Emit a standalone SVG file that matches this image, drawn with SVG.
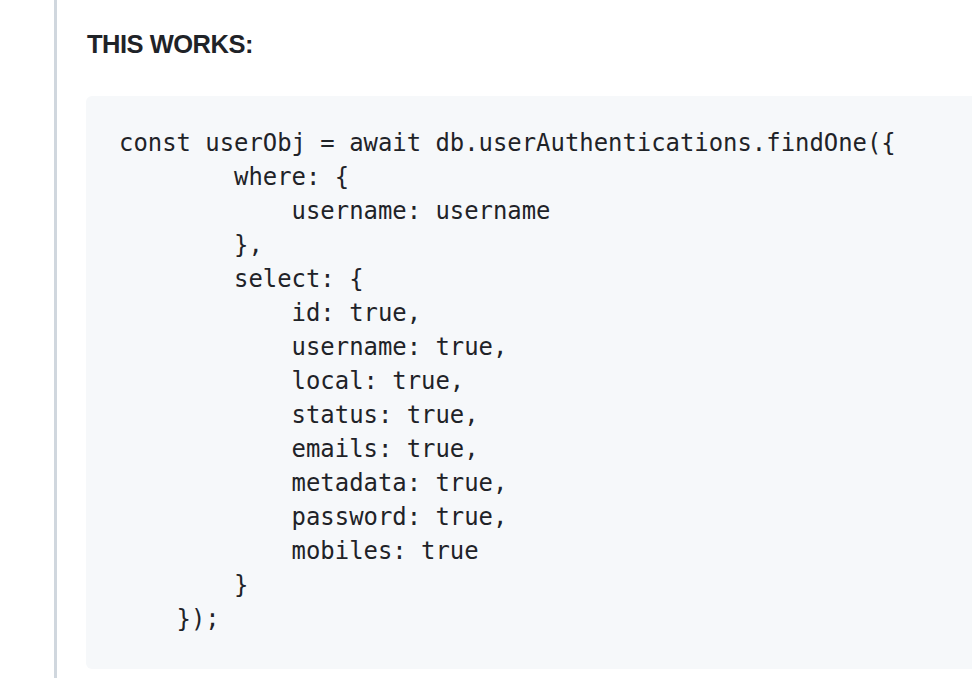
<svg xmlns="http://www.w3.org/2000/svg" width="972" height="678" viewBox="0 0 972 678">
<style>
.code{font-family:"DejaVu Sans Mono","Liberation Mono",monospace;font-size:23.9px;fill:#1f2328;white-space:pre}
</style>
<rect width="972" height="678" fill="#ffffff"/>
<rect x="54" y="0" width="3" height="678" fill="#d0d7de"/>
<text x="87" y="53" font-family="Liberation Sans, Arial, sans-serif" font-weight="bold" font-size="25.5" fill="#1f2328" letter-spacing="-0.5">THIS WORKS:</text>
<rect x="86" y="96" width="900" height="573" rx="6" fill="#f6f8fa"/>
<g xml:space="preserve">
<text class="code" x="119" y="151">const userObj = await db.userAuthentications.findOne({</text>
<text class="code" x="119" y="185">        where: {</text>
<text class="code" x="119" y="219">            username: username</text>
<text class="code" x="119" y="253">        },</text>
<text class="code" x="119" y="287">        select: {</text>
<text class="code" x="119" y="321">            id: true,</text>
<text class="code" x="119" y="355">            username: true,</text>
<text class="code" x="119" y="389">            local: true,</text>
<text class="code" x="119" y="423">            status: true,</text>
<text class="code" x="119" y="457">            emails: true,</text>
<text class="code" x="119" y="491">            metadata: true,</text>
<text class="code" x="119" y="525">            password: true,</text>
<text class="code" x="119" y="559">            mobiles: true</text>
<text class="code" x="119" y="593">        }</text>
<text class="code" x="119" y="627">    });</text>
</g>
</svg>
